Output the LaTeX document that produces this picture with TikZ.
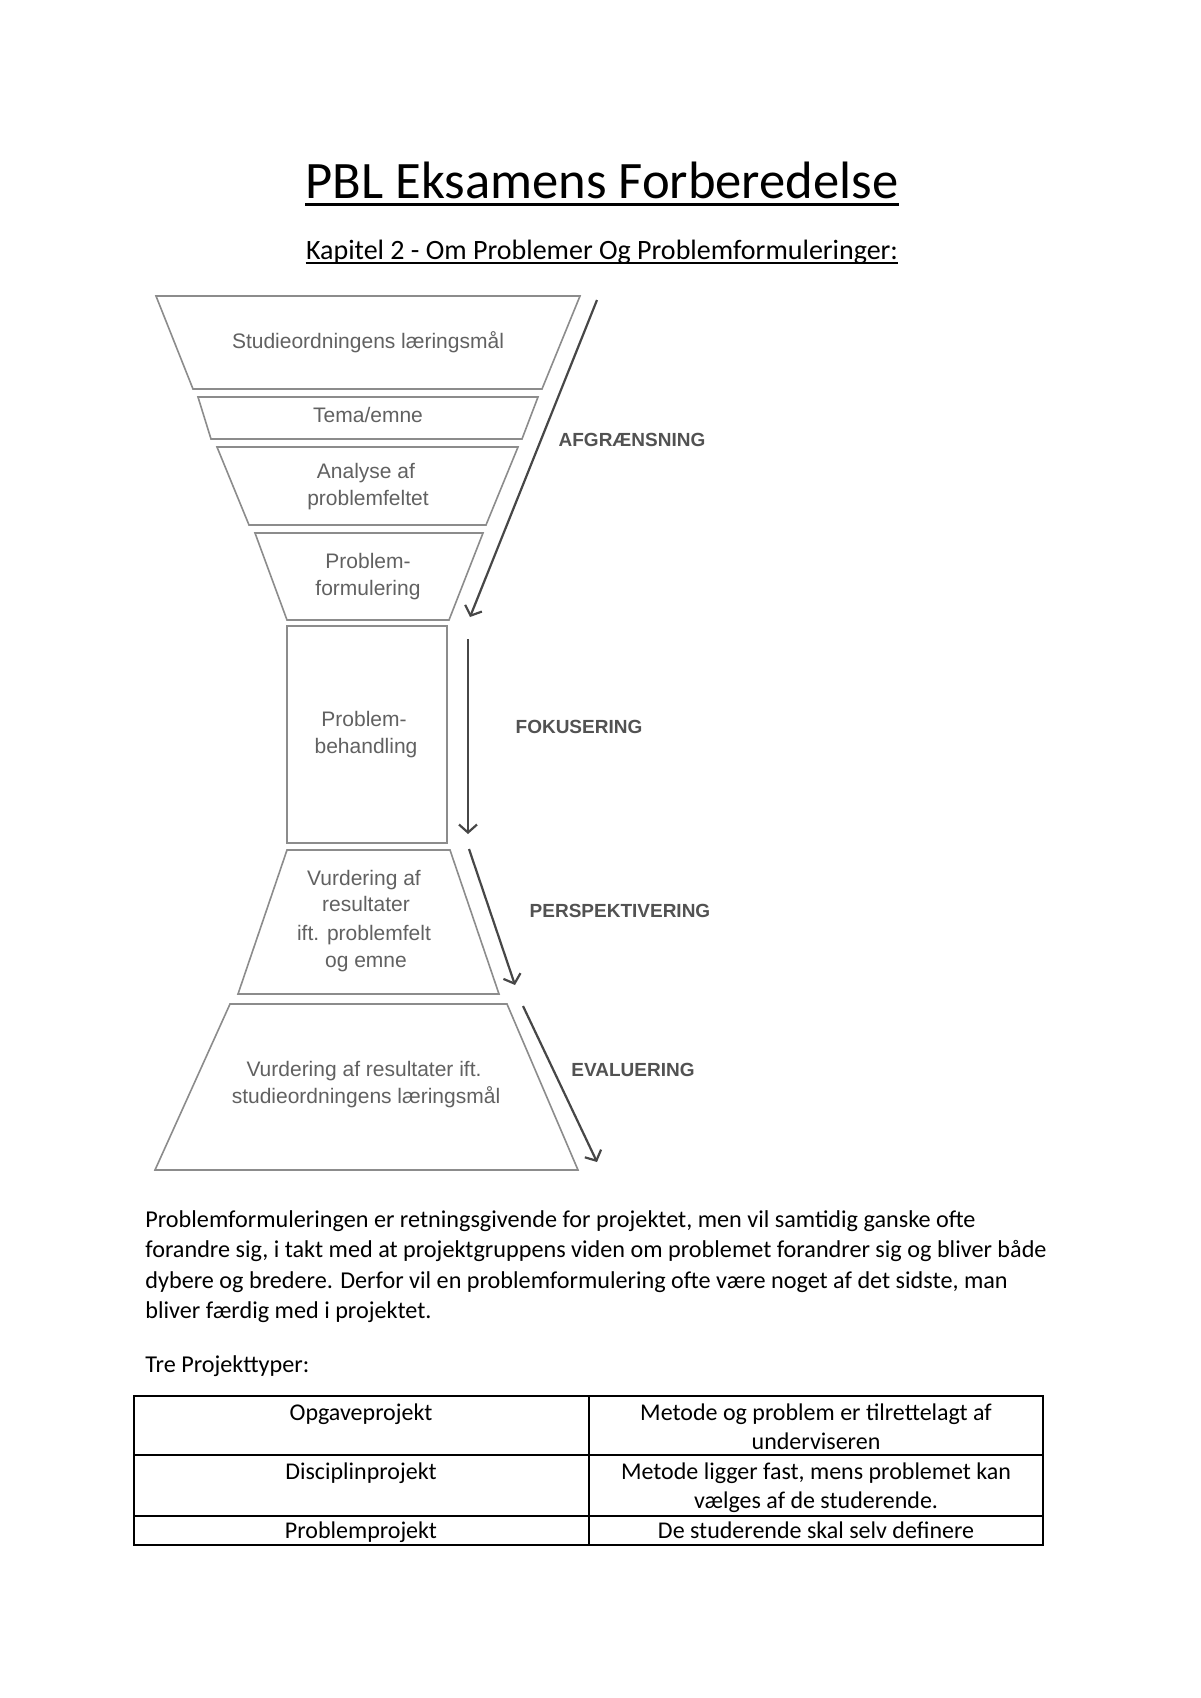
\documentclass[tikz,border=0pt]{standalone}
\usepackage{fontspec}
\setmainfont{Carlito}
\newfontfamily\diagfont{Liberation Sans}
\usetikzlibrary{arrows.meta}
\begin{document}
\begin{tikzpicture}[x=0.5pt,y=-0.5pt,
  box/.style={draw=black!45,line width=0.8pt,line join=miter},
  lbl/.style={font=\diagfont\fontsize{10.5}{13.5}\selectfont,text=black!62,align=center,inner sep=0pt,anchor=base},
  phase/.style={font=\diagfont\bfseries\fontsize{9.5}{11}\selectfont,text=black!68,inner sep=0pt},
  flow/.style={draw=black!72,line width=1.1pt,-{Straight Barb[length=4pt,width=9pt,line width=1.1pt]}},
  body/.style={font=\fontsize{12.1}{14}\selectfont,anchor=base west,inner sep=0pt},
  cell/.style={font=\fontsize{12}{14}\selectfont,anchor=base,inner sep=0pt},
  grid/.style={draw=black,line width=0.8pt}]
\useasboundingbox[fill=white] (0,0) rectangle (1200,1698);

% headings
\node[anchor=base,inner sep=0pt,font=\fontsize{26.3}{30}\selectfont] (title) at (602,198) {PBL Eksamens Forberedelse};
\draw[line width=1.5pt] ([yshift=-3pt]title.base west) -- ([yshift=-3pt]title.base east);
\node[anchor=base,inner sep=0pt,font=\fontsize{14}{17}\selectfont] (sub) at (602,259) {Kapitel 2 - Om Problemer Og Problemformuleringer:};
\draw[line width=0.7pt] ([yshift=-2pt]sub.base west) -- ([yshift=-2pt]sub.base east);

% funnel shapes
\draw[box] (156,296) -- (580,296) -- (542,389) -- (193,389) -- cycle;
\draw[box] (198,397) -- (538,397) -- (522,439) -- (211,439) -- cycle;
\draw[box] (217,447) -- (518,447) -- (486,525) -- (249,525) -- cycle;
\draw[box] (255,533) -- (483,533) -- (449,620) -- (287,620) -- cycle;
\draw[box] (287,626) rectangle (447,843);
\draw[box] (287,850) -- (450,850) -- (499,994) -- (238,994) -- cycle;
\draw[box] (230,1004) -- (507,1004) -- (578,1170) -- (155,1170) -- cycle;

% texts in shapes
\node[lbl] (t1) at (368,348) {Studieordningens læringsmål};
\node[lbl] (t2) at (368,422) {Tema/emne};
\node[lbl] (t3a) at (366,478) {Analyse af};
\node[lbl] (t3b) at (368,505) {problemfeltet};
\node[lbl] (t4a) at (368,568) {Problem-};
\node[lbl] (t4b) at (368,595) {formulering};
\node[lbl] (t5a) at (364,726) {Problem-};
\node[lbl] (t5b) at (366,753) {behandling};
\node[lbl] (t6a) at (364,885) {Vurdering af};
\node[lbl] (t6b) at (366,911) {resultater};
\node[lbl] (t6c) at (364,940) {ift. problemfelt};
\node[lbl] (t6d) at (366,967) {og emne};
\node[lbl] (t7a) at (364,1076) {Vurdering af resultater ift.};
\node[lbl] (t7b) at (366,1103) {studieordningens læringsmål};

% phase labels
\node[phase] (afg) at (632,440) {AFGRÆNSNING};
\node[phase] (fok) at (579,727) {FOKUSERING};
\node[phase] (per) at (620,911) {PERSPEKTIVERING};
\node[phase] (eva) at (633,1070) {EVALUERING};

% arrows
\coordinate (a1s) at (597,300);
\coordinate (a1e) at (470,617);
\coordinate (a2s) at (468,639);
\coordinate (a2e) at (468,834);
\coordinate (a3s) at (469,849);
\coordinate (a3e) at (515,985);
\coordinate (a4s) at (523,1006);
\coordinate (a4e) at (597,1162);
\draw[flow] (a1s) -- (a1e);
\draw[flow] (a2s) -- (a2e);
\draw[flow] (a3s) -- (a3e);
\draw[flow] (a4s) -- (a4e);

% paragraph
\node[body] (p1) at (145,1227) {Problemformuleringen er retningsgivende for projektet, men vil samtidig ganske ofte};
\node[body] (p2) at (145,1257.5) {forandre sig, i takt med at projektgruppens viden om problemet forandrer sig og bliver både};
\node[body] (p3) at (145,1288) {dybere og bredere. Derfor vil en problemformulering ofte være noget af det sidste, man};
\node[body] (p4) at (145,1318) {bliver færdig med i projektet.};
\node[body] (p5) at (145,1372) {Tre Projekttyper:};

% table
\coordinate (tl) at (134,1396);
\coordinate (br) at (1043,1545);
\draw[grid,line width=1pt] (tl) rectangle (br);
\draw[grid] (134,1455) -- (1043,1455);
\draw[grid] (134,1516) -- (1043,1516);
\draw[grid] (589,1396) -- (589,1545);
\node[cell] (c11) at (361,1420) {Opgaveprojekt};
\node[cell] (c12a) at (816,1420) {Metode og problem er tilrettelagt af};
\node[cell] (c12b) at (816,1449) {underviseren};
\node[cell] (c21) at (361,1479) {Disciplinprojekt};
\node[cell] (c22a) at (816,1479) {Metode ligger fast, mens problemet kan};
\node[cell] (c22b) at (816,1508) {vælges af de studerende.};
\node[cell] (c31) at (361,1538) {Problemprojekt};
\node[cell] (c32) at (816,1538) {De studerende skal selv definere};
\end{tikzpicture}
\end{document}
